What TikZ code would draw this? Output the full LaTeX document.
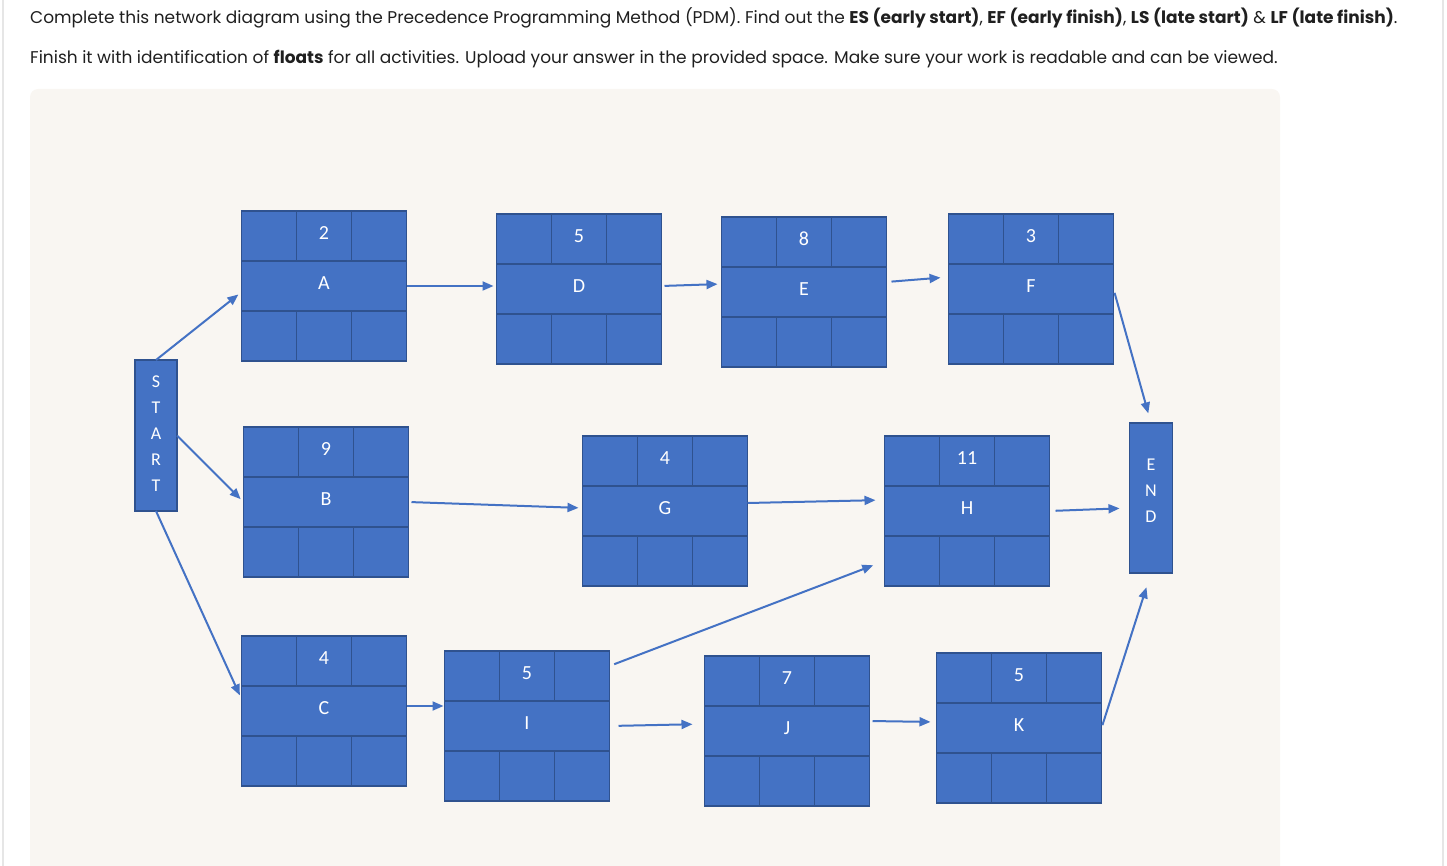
\documentclass[tikz,border=0pt]{standalone}
\usepackage{fontspec}
\setmainfont{Poppins}
\newfontfamily\boxfont{Carlito}
\usetikzlibrary{arrows.meta}
\definecolor{boxfill}{HTML}{4472C4}
\definecolor{boxline}{HTML}{2F528F}
\definecolor{panel}{HTML}{F9F6F2}
\definecolor{frame}{HTML}{E6E6E6}
\definecolor{ink}{HTML}{1F1F1F}

\begin{document}
\begin{tikzpicture}[x=1pt,y=-1pt,
  cell/.style={draw=boxline,line width=1.5pt,fill=boxfill,text=white,font=\boxfont\fontsize{20}{22}\selectfont,minimum width=55pt,minimum height=50pt,inner sep=0pt,outer sep=0pt,text height=13pt,text depth=6pt},
  row/.style={cell,minimum width=165pt},
  bar/.style={draw=boxline,line width=1.5pt,fill=boxfill,text=white,minimum width=42pt,minimum height=151pt,inner sep=0pt,outer sep=0pt,align=center,font=\boxfont\fontsize{18}{26}\selectfont},
  link/.style={draw=boxfill,line width=2pt,-{Triangle[length=11pt,width=9pt]},shorten >=4pt}]
\useasboundingbox (0,0) rectangle (1447,866);
\clip (0,0) rectangle (1447,866);

%page and panel
\draw[frame,line width=2pt] (3,0) -- (3,866);
\draw[frame,line width=2pt] (1443,0) -- (1443,866);
\fill[panel,rounded corners=8pt] (30,89) rectangle (1280,900);

\node[anchor=west,text=ink,font=\fontsize{17}{20}\selectfont,inner sep=0pt] (task1) at (30,18) {Complete this network diagram using the Precedence Programming Method (PDM). Find out the \textbf{ES (early start)}, \textbf{EF (early finish)}, \textbf{LS (late start)} \& \textbf{LF (late finish)}.};
\node[anchor=west,text=ink,font=\fontsize{17}{20}\selectfont,inner sep=0pt] (task2) at (30,59) {Finish it with identification of \textbf{floats} for all activities. Upload your answer in the provided space. Make sure your work is readable and can be viewed.};

%start and end
\node[bar,text depth=4pt] (start) at (156,435.5) {S\\T\\A\\R\\T};
\node[bar,minimum width=43pt,minimum height=150pt,text depth=14pt] (finish) at (1151,498) {E\\N\\D};

%activity A
\node[row] (A) at (324,286) {A};
\node[cell,anchor=south west] (A-es) at (A.north west) {};
\node[cell,anchor=south] (A-d) at (A.north) {2};
\node[cell,anchor=south east] (A-ef) at (A.north east) {};
\node[cell,anchor=north west] (A-ls) at (A.south west) {};
\node[cell,anchor=north] (A-tf) at (A.south) {};
\node[cell,anchor=north east] (A-lf) at (A.south east) {};

%activity D
\node[row] (D) at (579,289) {D};
\node[cell,anchor=south west] (D-es) at (D.north west) {};
\node[cell,anchor=south] (D-d) at (D.north) {5};
\node[cell,anchor=south east] (D-ef) at (D.north east) {};
\node[cell,anchor=north west] (D-ls) at (D.south west) {};
\node[cell,anchor=north] (D-tf) at (D.south) {};
\node[cell,anchor=north east] (D-lf) at (D.south east) {};

%activity E
\node[row] (E) at (804,292) {E};
\node[cell,anchor=south west] (E-es) at (E.north west) {};
\node[cell,anchor=south] (E-d) at (E.north) {8};
\node[cell,anchor=south east] (E-ef) at (E.north east) {};
\node[cell,anchor=north west] (E-ls) at (E.south west) {};
\node[cell,anchor=north] (E-tf) at (E.south) {};
\node[cell,anchor=north east] (E-lf) at (E.south east) {};

%activity F
\node[row] (F) at (1031,289) {F};
\node[cell,anchor=south west] (F-es) at (F.north west) {};
\node[cell,anchor=south] (F-d) at (F.north) {3};
\node[cell,anchor=south east] (F-ef) at (F.north east) {};
\node[cell,anchor=north west] (F-ls) at (F.south west) {};
\node[cell,anchor=north] (F-tf) at (F.south) {};
\node[cell,anchor=north east] (F-lf) at (F.south east) {};

%activity B
\node[row] (B) at (326,502) {B};
\node[cell,anchor=south west] (B-es) at (B.north west) {};
\node[cell,anchor=south] (B-d) at (B.north) {9};
\node[cell,anchor=south east] (B-ef) at (B.north east) {};
\node[cell,anchor=north west] (B-ls) at (B.south west) {};
\node[cell,anchor=north] (B-tf) at (B.south) {};
\node[cell,anchor=north east] (B-lf) at (B.south east) {};

%activity G
\node[row] (G) at (665,511) {G};
\node[cell,anchor=south west] (G-es) at (G.north west) {};
\node[cell,anchor=south] (G-d) at (G.north) {4};
\node[cell,anchor=south east] (G-ef) at (G.north east) {};
\node[cell,anchor=north west] (G-ls) at (G.south west) {};
\node[cell,anchor=north] (G-tf) at (G.south) {};
\node[cell,anchor=north east] (G-lf) at (G.south east) {};

%activity H
\node[row] (H) at (967,511) {H};
\node[cell,anchor=south west] (H-es) at (H.north west) {};
\node[cell,anchor=south] (H-d) at (H.north) {11};
\node[cell,anchor=south east] (H-ef) at (H.north east) {};
\node[cell,anchor=north west] (H-ls) at (H.south west) {};
\node[cell,anchor=north] (H-tf) at (H.south) {};
\node[cell,anchor=north east] (H-lf) at (H.south east) {};

%activity C
\node[row] (C) at (324,711) {C};
\node[cell,anchor=south west] (C-es) at (C.north west) {};
\node[cell,anchor=south] (C-d) at (C.north) {4};
\node[cell,anchor=south east] (C-ef) at (C.north east) {};
\node[cell,anchor=north west] (C-ls) at (C.south west) {};
\node[cell,anchor=north] (C-tf) at (C.south) {};
\node[cell,anchor=north east] (C-lf) at (C.south east) {};

%activity I
\node[row] (I) at (527,726) {I};
\node[cell,anchor=south west] (I-es) at (I.north west) {};
\node[cell,anchor=south] (I-d) at (I.north) {5};
\node[cell,anchor=south east] (I-ef) at (I.north east) {};
\node[cell,anchor=north west] (I-ls) at (I.south west) {};
\node[cell,anchor=north] (I-tf) at (I.south) {};
\node[cell,anchor=north east] (I-lf) at (I.south east) {};

%activity J
\node[row] (J) at (787,731) {J};
\node[cell,anchor=south west] (J-es) at (J.north west) {};
\node[cell,anchor=south] (J-d) at (J.north) {7};
\node[cell,anchor=south east] (J-ef) at (J.north east) {};
\node[cell,anchor=north west] (J-ls) at (J.south west) {};
\node[cell,anchor=north] (J-tf) at (J.south) {};
\node[cell,anchor=north east] (J-lf) at (J.south east) {};

%activity K
\node[row] (K) at (1019,728) {K};
\node[cell,anchor=south west] (K-es) at (K.north west) {};
\node[cell,anchor=south] (K-d) at (K.north) {5};
\node[cell,anchor=south east] (K-ef) at (K.north east) {};
\node[cell,anchor=north west] (K-ls) at (K.south west) {};
\node[cell,anchor=north] (K-tf) at (K.south) {};
\node[cell,anchor=north east] (K-lf) at (K.south east) {};

%links
\draw[link] (start.north) -- ([yshift=-6pt]A.west);
\draw[link] (start.east) -- (B.west);
\draw[link] (start.south) -- ([yshift=12pt]C.west);
\draw[link,shorten >=3pt] (A.east) -- (A.east -| D.west);
\draw[link,shorten <=3pt] ([yshift=3pt]D.east) -- ([yshift=8pt]E.west);
\draw[link,shorten <=5pt,shorten >=8pt] ([yshift=10pt]E.east) -- ([yshift=12pt]F.west);
\draw[link,shorten <=4pt,shorten >=10pt] (F.east) -- (finish.north);
\draw[link,shorten <=3pt] (B.east) -- ([yshift=3pt]G.west);
\draw[link,shorten >=9pt] ([yshift=8pt]G.east) -- ([yshift=11pt]H.west);
\draw[link,shorten <=6pt,shorten >=10pt] (H.east) -- ([yshift=-10pt]finish.west);
\draw[link,shorten >=1pt] ([yshift=5pt]C.east) -- ([yshift=5pt]C.east -| I.west);
\draw[link,shorten <=5pt,shorten >=12pt] ([yshift=10pt]I-ef.east) -- (H-ls.west);
\draw[link,shorten <=9pt,shorten >=12pt] (I.east) -- ([yshift=2pt]I.east -| J.west);
\draw[link,shorten <=3pt,shorten >=6pt] ([yshift=10pt]J.east) -- ([yshift=6pt]K.west);
\draw[link,shorten <=3pt,shorten >=15pt] (K.east) -- (finish.south);

\end{tikzpicture}
\end{document}
